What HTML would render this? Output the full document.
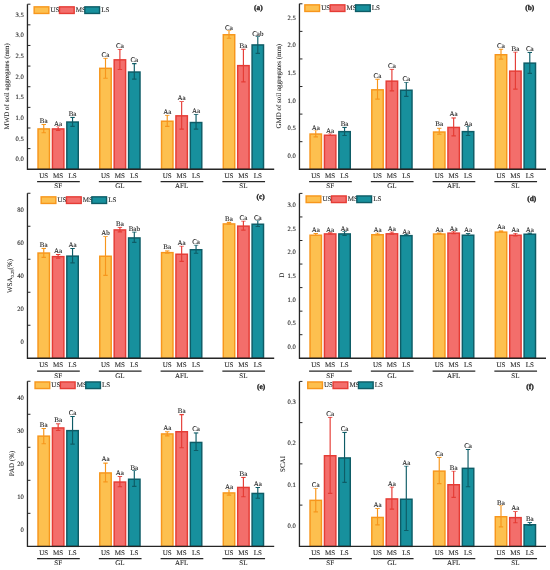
<!DOCTYPE html>
<html><head><meta charset="utf-8"><title>Soil aggregate indices</title>
<style>
html,body{margin:0;padding:0;background:#fff;}
body{width:550px;height:570px;overflow:hidden;}
svg{display:block;text-rendering:geometricPrecision;filter:blur(0.3px);}
.t{font-family:'Liberation Serif', 'Times New Roman', serif;font-size:7.0px;fill:#222222;stroke:#222222;stroke-width:0.1px;}
.tk{font-size:6.6px;}
.yl{font-size:7.0px;stroke-width:0.05px;}
.tag{font-family:'Liberation Serif', 'Times New Roman', serif;font-size:7.4px;font-weight:bold;fill:#222222;stroke:#222222;stroke-width:0.35px;}
</style></head>
<body>
<svg width="550" height="570" viewBox="0 0 550 570">
<rect width="550" height="570" fill="#fff"/>
<g id="pa">
<rect x="38.02" y="128.92" width="11.45" height="40.33" fill="#FDC04F" stroke="#F7961C" stroke-width="1.45"/>
<path d="M43.75 124.5V132.7M41.55 124.5H45.95M41.55 132.7H45.95" stroke="#F7961C" stroke-width="1.15" fill="none"/>
<rect x="39.56" y="117.4" width="8.38" height="6.6" fill="#fff"/>
<text x="43.75" y="123.2" text-anchor="middle" class="t">Ba</text>
<rect x="52.42" y="128.92" width="11.45" height="40.33" fill="#F36E6B" stroke="#E53C35" stroke-width="1.45"/>
<path d="M58.15 126.4V130.4M55.95 126.4H60.35M55.95 130.4H60.35" stroke="#E53C35" stroke-width="1.15" fill="none"/>
<rect x="53.77" y="120" width="8.76" height="6.6" fill="#fff"/>
<text x="58.15" y="125.8" text-anchor="middle" class="t">Aa</text>
<rect x="66.82" y="122.02" width="11.45" height="47.23" fill="#17909D" stroke="#0E5C66" stroke-width="1.45"/>
<path d="M72.55 117.3V126.4M70.35 117.3H74.75M70.35 126.4H74.75" stroke="#0E5C66" stroke-width="1.15" fill="none"/>
<rect x="68.36" y="110" width="8.38" height="6.6" fill="#fff"/>
<text x="72.55" y="115.8" text-anchor="middle" class="t">Ba</text>
<rect x="99.77" y="68.32" width="11.45" height="100.93" fill="#FDC04F" stroke="#F7961C" stroke-width="1.45"/>
<path d="M105.5 58.2V78.2M103.3 58.2H107.7M103.3 78.2H107.7" stroke="#F7961C" stroke-width="1.15" fill="none"/>
<rect x="101.31" y="50.9" width="8.38" height="6.6" fill="#fff"/>
<text x="105.5" y="56.7" text-anchor="middle" class="t">Ca</text>
<rect x="114.17" y="59.83" width="11.45" height="109.43" fill="#F36E6B" stroke="#E53C35" stroke-width="1.45"/>
<path d="M119.9 49.1V69.5M117.7 49.1H122.1M117.7 69.5H122.1" stroke="#E53C35" stroke-width="1.15" fill="none"/>
<rect x="115.71" y="42.4" width="8.38" height="6.6" fill="#fff"/>
<text x="119.9" y="48.2" text-anchor="middle" class="t">Ca</text>
<rect x="128.57" y="72.02" width="11.45" height="97.23" fill="#17909D" stroke="#0E5C66" stroke-width="1.45"/>
<path d="M134.3 63.6V79.1M132.1 63.6H136.5M132.1 79.1H136.5" stroke="#0E5C66" stroke-width="1.15" fill="none"/>
<rect x="130.11" y="56.4" width="8.38" height="6.6" fill="#fff"/>
<text x="134.3" y="62.2" text-anchor="middle" class="t">Ca</text>
<rect x="161.53" y="121.22" width="11.45" height="48.02" fill="#FDC04F" stroke="#F7961C" stroke-width="1.45"/>
<path d="M167.25 115.1V126.4M165.05 115.1H169.45M165.05 126.4H169.45" stroke="#F7961C" stroke-width="1.15" fill="none"/>
<rect x="162.87" y="108.2" width="8.76" height="6.6" fill="#fff"/>
<text x="167.25" y="114" text-anchor="middle" class="t">Aa</text>
<rect x="175.93" y="115.82" width="11.45" height="53.43" fill="#F36E6B" stroke="#E53C35" stroke-width="1.45"/>
<path d="M181.65 101.3V129.1M179.45 101.3H183.85M179.45 129.1H183.85" stroke="#E53C35" stroke-width="1.15" fill="none"/>
<rect x="177.27" y="94.6" width="8.76" height="6.6" fill="#fff"/>
<text x="181.65" y="100.4" text-anchor="middle" class="t">Aa</text>
<rect x="190.33" y="122.52" width="11.45" height="46.73" fill="#17909D" stroke="#0E5C66" stroke-width="1.45"/>
<path d="M196.05 114.2V129.1M193.85 114.2H198.25M193.85 129.1H198.25" stroke="#0E5C66" stroke-width="1.15" fill="none"/>
<rect x="191.67" y="107.3" width="8.76" height="6.6" fill="#fff"/>
<text x="196.05" y="113.1" text-anchor="middle" class="t">Aa</text>
<rect x="223.28" y="34.73" width="11.45" height="134.53" fill="#FDC04F" stroke="#F7961C" stroke-width="1.45"/>
<path d="M229 30.5V38.2M226.8 30.5H231.2M226.8 38.2H231.2" stroke="#F7961C" stroke-width="1.15" fill="none"/>
<rect x="224.81" y="23.7" width="8.38" height="6.6" fill="#fff"/>
<text x="229" y="29.5" text-anchor="middle" class="t">Ca</text>
<rect x="237.68" y="65.62" width="11.45" height="103.62" fill="#F36E6B" stroke="#E53C35" stroke-width="1.45"/>
<path d="M243.4 49.1V81.8M241.2 49.1H245.6M241.2 81.8H245.6" stroke="#E53C35" stroke-width="1.15" fill="none"/>
<rect x="239.21" y="41.9" width="8.38" height="6.6" fill="#fff"/>
<text x="243.4" y="47.7" text-anchor="middle" class="t">Ba</text>
<rect x="252.08" y="44.93" width="11.45" height="124.33" fill="#17909D" stroke="#0E5C66" stroke-width="1.45"/>
<path d="M257.8 36.4V53.3M255.6 36.4H260M255.6 53.3H260" stroke="#0E5C66" stroke-width="1.15" fill="none"/>
<rect x="251.86" y="29.7" width="11.88" height="6.6" fill="#fff"/>
<text x="257.8" y="35.5" text-anchor="middle" class="t">Cab</text>
<path d="M27.45 4.2V169.25H274.2" stroke="#262626" stroke-width="1.3" fill="none"/>
<path d="M27.45 4.2h3M27.45 24.83h3M27.45 45.46h3M27.45 66.09h3M27.45 86.73h3M27.45 107.36h3M27.45 127.99h3M27.45 148.62h3" stroke="#262626" stroke-width="1" fill="none"/>
<text x="23.85" y="16.72" text-anchor="end" class="t tk">3.5</text>
<text x="23.85" y="37.35" text-anchor="end" class="t tk">3.0</text>
<text x="23.85" y="57.98" text-anchor="end" class="t tk">2.5</text>
<text x="23.85" y="78.61" text-anchor="end" class="t tk">2.0</text>
<text x="23.85" y="99.24" text-anchor="end" class="t tk">1.5</text>
<text x="23.85" y="119.87" text-anchor="end" class="t tk">1.0</text>
<text x="23.85" y="140.5" text-anchor="end" class="t tk">0.5</text>
<text x="23.85" y="161.13" text-anchor="end" class="t tk">0.0</text>
<text x="43.75" y="177.5" text-anchor="middle" class="t">US</text>
<text x="58.15" y="177.5" text-anchor="middle" class="t">MS</text>
<text x="72.55" y="177.5" text-anchor="middle" class="t">LS</text>
<path d="M37.1 181.55H79.8" stroke="#262626" stroke-width="1.3"/>
<text x="58.15" y="188.4" text-anchor="middle" class="t">SF</text>
<text x="105.5" y="177.5" text-anchor="middle" class="t">US</text>
<text x="119.9" y="177.5" text-anchor="middle" class="t">MS</text>
<text x="134.3" y="177.5" text-anchor="middle" class="t">LS</text>
<path d="M98.85 181.55H141.55" stroke="#262626" stroke-width="1.3"/>
<text x="119.9" y="188.4" text-anchor="middle" class="t">GL</text>
<text x="167.25" y="177.5" text-anchor="middle" class="t">US</text>
<text x="181.65" y="177.5" text-anchor="middle" class="t">MS</text>
<text x="196.05" y="177.5" text-anchor="middle" class="t">LS</text>
<path d="M160.6 181.55H203.3" stroke="#262626" stroke-width="1.3"/>
<text x="181.65" y="188.4" text-anchor="middle" class="t">AFL</text>
<text x="229" y="177.5" text-anchor="middle" class="t">US</text>
<text x="243.4" y="177.5" text-anchor="middle" class="t">MS</text>
<text x="257.8" y="177.5" text-anchor="middle" class="t">LS</text>
<path d="M222.35 181.55H265.05" stroke="#262626" stroke-width="1.3"/>
<text x="243.4" y="188.4" text-anchor="middle" class="t">SL</text>
<rect x="34.15" y="6.85" width="14.7" height="6.6" fill="#FDC04F" stroke="#F7961C" stroke-width="1.4"/>
<text x="50.45" y="12.35" class="t">US</text>
<rect x="59.5" y="6.85" width="14.7" height="6.6" fill="#F36E6B" stroke="#E53C35" stroke-width="1.4"/>
<text x="75.8" y="12.35" class="t">MS</text>
<rect x="84.85" y="6.85" width="14.7" height="6.6" fill="#17909D" stroke="#0E5C66" stroke-width="1.4"/>
<text x="101.15" y="12.35" class="t">LS</text>
<text x="258.3" y="10.4" text-anchor="middle" class="tag">(a)</text>
<text transform="translate(9.2 86.4) rotate(-90)" text-anchor="middle" class="t yl">MWD of soil aggregates (mm)</text>
</g>
<g id="pb">
<rect x="310.03" y="134.03" width="11.45" height="35.22" fill="#FDC04F" stroke="#F7961C" stroke-width="1.45"/>
<path d="M315.75 130V136.9M313.55 130H317.95M313.55 136.9H317.95" stroke="#F7961C" stroke-width="1.15" fill="none"/>
<rect x="311.37" y="123.7" width="8.76" height="6.6" fill="#fff"/>
<text x="315.75" y="129.5" text-anchor="middle" class="t">Aa</text>
<rect x="324.43" y="135.22" width="11.45" height="34.02" fill="#F36E6B" stroke="#E53C35" stroke-width="1.45"/>
<path d="M330.15 133.5V135.5M327.95 133.5H332.35M327.95 135.5H332.35" stroke="#E53C35" stroke-width="1.15" fill="none"/>
<rect x="325.77" y="127.3" width="8.76" height="6.3" fill="#fff"/>
<text x="330.15" y="133.1" text-anchor="middle" class="t">Aa</text>
<rect x="338.83" y="131.62" width="11.45" height="37.62" fill="#17909D" stroke="#0E5C66" stroke-width="1.45"/>
<path d="M344.55 127.3V135.5M342.35 127.3H346.75M342.35 135.5H346.75" stroke="#0E5C66" stroke-width="1.15" fill="none"/>
<rect x="340.36" y="120" width="8.38" height="6.6" fill="#fff"/>
<text x="344.55" y="125.8" text-anchor="middle" class="t">Ba</text>
<rect x="371.78" y="89.82" width="11.45" height="79.43" fill="#FDC04F" stroke="#F7961C" stroke-width="1.45"/>
<path d="M377.5 79.1V99.1M375.3 79.1H379.7M375.3 99.1H379.7" stroke="#F7961C" stroke-width="1.15" fill="none"/>
<rect x="373.31" y="71.9" width="8.38" height="6.6" fill="#fff"/>
<text x="377.5" y="77.7" text-anchor="middle" class="t">Ca</text>
<rect x="386.18" y="81.12" width="11.45" height="88.12" fill="#F36E6B" stroke="#E53C35" stroke-width="1.45"/>
<path d="M391.9 69.1V90.9M389.7 69.1H394.1M389.7 90.9H394.1" stroke="#E53C35" stroke-width="1.15" fill="none"/>
<rect x="387.71" y="62.2" width="8.38" height="6.6" fill="#fff"/>
<text x="391.9" y="68" text-anchor="middle" class="t">Ca</text>
<rect x="400.58" y="90.22" width="11.45" height="79.03" fill="#17909D" stroke="#0E5C66" stroke-width="1.45"/>
<path d="M406.3 82.2V96.4M404.1 82.2H408.5M404.1 96.4H408.5" stroke="#0E5C66" stroke-width="1.15" fill="none"/>
<rect x="402.11" y="75.5" width="8.38" height="6.6" fill="#fff"/>
<text x="406.3" y="81.3" text-anchor="middle" class="t">Ca</text>
<rect x="433.53" y="132.03" width="11.45" height="37.22" fill="#FDC04F" stroke="#F7961C" stroke-width="1.45"/>
<path d="M439.25 128.2V134.2M437.05 128.2H441.45M437.05 134.2H441.45" stroke="#F7961C" stroke-width="1.15" fill="none"/>
<rect x="435.06" y="120.6" width="8.38" height="6.6" fill="#fff"/>
<text x="439.25" y="126.4" text-anchor="middle" class="t">Ba</text>
<rect x="447.93" y="127.42" width="11.45" height="41.82" fill="#F36E6B" stroke="#E53C35" stroke-width="1.45"/>
<path d="M453.65 117.8V135.8M451.45 117.8H455.85M451.45 135.8H455.85" stroke="#E53C35" stroke-width="1.15" fill="none"/>
<rect x="449.27" y="110.6" width="8.76" height="6.6" fill="#fff"/>
<text x="453.65" y="116.4" text-anchor="middle" class="t">Aa</text>
<rect x="462.33" y="131.62" width="11.45" height="37.62" fill="#17909D" stroke="#0E5C66" stroke-width="1.45"/>
<path d="M468.05 126.4V135.5M465.85 126.4H470.25M465.85 135.5H470.25" stroke="#0E5C66" stroke-width="1.15" fill="none"/>
<rect x="463.67" y="119.7" width="8.76" height="6.6" fill="#fff"/>
<text x="468.05" y="125.5" text-anchor="middle" class="t">Aa</text>
<rect x="495.28" y="54.73" width="11.45" height="114.53" fill="#FDC04F" stroke="#F7961C" stroke-width="1.45"/>
<path d="M501 49.1V59.1M498.8 49.1H503.2M498.8 59.1H503.2" stroke="#F7961C" stroke-width="1.15" fill="none"/>
<rect x="496.81" y="41.9" width="8.38" height="6.6" fill="#fff"/>
<text x="501" y="47.7" text-anchor="middle" class="t">Ca</text>
<rect x="509.68" y="71.12" width="11.45" height="98.12" fill="#F36E6B" stroke="#E53C35" stroke-width="1.45"/>
<path d="M515.4 51.8V89.1M513.2 51.8H517.6M513.2 89.1H517.6" stroke="#E53C35" stroke-width="1.15" fill="none"/>
<rect x="511.21" y="45.1" width="8.38" height="6.6" fill="#fff"/>
<text x="515.4" y="50.9" text-anchor="middle" class="t">Ba</text>
<rect x="524.08" y="63.12" width="11.45" height="106.12" fill="#17909D" stroke="#0E5C66" stroke-width="1.45"/>
<path d="M529.8 52.4V73.3M527.6 52.4H532M527.6 73.3H532" stroke="#0E5C66" stroke-width="1.15" fill="none"/>
<rect x="525.61" y="45.1" width="8.38" height="6.6" fill="#fff"/>
<text x="529.8" y="50.9" text-anchor="middle" class="t">Ca</text>
<path d="M299.45 3.8V169.25H546" stroke="#262626" stroke-width="1.3" fill="none"/>
<path d="M299.45 3.8h3M299.45 31.38h3M299.45 58.95h3M299.45 86.52h3M299.45 114.1h3M299.45 141.68h3" stroke="#262626" stroke-width="1" fill="none"/>
<text x="295.85" y="19.79" text-anchor="end" class="t tk">2.5</text>
<text x="295.85" y="47.36" text-anchor="end" class="t tk">2.0</text>
<text x="295.85" y="74.94" text-anchor="end" class="t tk">1.5</text>
<text x="295.85" y="102.51" text-anchor="end" class="t tk">1.0</text>
<text x="295.85" y="130.09" text-anchor="end" class="t tk">0.5</text>
<text x="295.85" y="157.66" text-anchor="end" class="t tk">0.0</text>
<text x="315.75" y="177.5" text-anchor="middle" class="t">US</text>
<text x="330.15" y="177.5" text-anchor="middle" class="t">MS</text>
<text x="344.55" y="177.5" text-anchor="middle" class="t">LS</text>
<path d="M309.1 181.55H351.8" stroke="#262626" stroke-width="1.3"/>
<text x="330.15" y="188.4" text-anchor="middle" class="t">SF</text>
<text x="377.5" y="177.5" text-anchor="middle" class="t">US</text>
<text x="391.9" y="177.5" text-anchor="middle" class="t">MS</text>
<text x="406.3" y="177.5" text-anchor="middle" class="t">LS</text>
<path d="M370.85 181.55H413.55" stroke="#262626" stroke-width="1.3"/>
<text x="391.9" y="188.4" text-anchor="middle" class="t">GL</text>
<text x="439.25" y="177.5" text-anchor="middle" class="t">US</text>
<text x="453.65" y="177.5" text-anchor="middle" class="t">MS</text>
<text x="468.05" y="177.5" text-anchor="middle" class="t">LS</text>
<path d="M432.6 181.55H475.3" stroke="#262626" stroke-width="1.3"/>
<text x="453.65" y="188.4" text-anchor="middle" class="t">AFL</text>
<text x="501" y="177.5" text-anchor="middle" class="t">US</text>
<text x="515.4" y="177.5" text-anchor="middle" class="t">MS</text>
<text x="529.8" y="177.5" text-anchor="middle" class="t">LS</text>
<path d="M494.35 181.55H537.05" stroke="#262626" stroke-width="1.3"/>
<text x="515.4" y="188.4" text-anchor="middle" class="t">SL</text>
<rect x="304.85" y="4.85" width="14.7" height="6.6" fill="#FDC04F" stroke="#F7961C" stroke-width="1.4"/>
<text x="321.15" y="10.35" class="t">US</text>
<rect x="330.2" y="4.85" width="14.7" height="6.6" fill="#F36E6B" stroke="#E53C35" stroke-width="1.4"/>
<text x="346.5" y="10.35" class="t">MS</text>
<rect x="355.55" y="4.85" width="14.7" height="6.6" fill="#17909D" stroke="#0E5C66" stroke-width="1.4"/>
<text x="371.85" y="10.35" class="t">LS</text>
<text x="529.8" y="10.2" text-anchor="middle" class="tag">(b)</text>
<text transform="translate(280.9 86.2) rotate(-90)" text-anchor="middle" class="t yl">GMD of soil aggregates (mm)</text>
</g>
<g id="pc">
<rect x="38.02" y="253.03" width="11.45" height="105.22" fill="#FDC04F" stroke="#F7961C" stroke-width="1.45"/>
<path d="M43.75 248.3V257.4M41.55 248.3H45.95M41.55 257.4H45.95" stroke="#F7961C" stroke-width="1.15" fill="none"/>
<rect x="39.56" y="241" width="8.38" height="6.6" fill="#fff"/>
<text x="43.75" y="246.8" text-anchor="middle" class="t">Ba</text>
<rect x="52.42" y="256.62" width="11.45" height="101.62" fill="#F36E6B" stroke="#E53C35" stroke-width="1.45"/>
<path d="M58.15 254.5V258.1M55.95 254.5H60.35M55.95 258.1H60.35" stroke="#E53C35" stroke-width="1.15" fill="none"/>
<rect x="53.77" y="247.4" width="8.76" height="6.6" fill="#fff"/>
<text x="58.15" y="253.2" text-anchor="middle" class="t">Aa</text>
<rect x="66.82" y="256.12" width="11.45" height="102.12" fill="#17909D" stroke="#0E5C66" stroke-width="1.45"/>
<path d="M72.55 248.3V262.8M70.35 248.3H74.75M70.35 262.8H74.75" stroke="#0E5C66" stroke-width="1.15" fill="none"/>
<rect x="68.17" y="241.4" width="8.76" height="6.6" fill="#fff"/>
<text x="72.55" y="247.2" text-anchor="middle" class="t">Aa</text>
<rect x="99.77" y="256.23" width="11.45" height="102.03" fill="#FDC04F" stroke="#F7961C" stroke-width="1.45"/>
<path d="M105.5 236.5V275.4M103.3 236.5H107.7M103.3 275.4H107.7" stroke="#F7961C" stroke-width="1.15" fill="none"/>
<rect x="100.92" y="229.6" width="9.15" height="6.6" fill="#fff"/>
<text x="105.5" y="235.4" text-anchor="middle" class="t">Ab</text>
<rect x="114.17" y="229.92" width="11.45" height="128.33" fill="#F36E6B" stroke="#E53C35" stroke-width="1.45"/>
<path d="M119.9 227.2V231.9M117.7 227.2H122.1M117.7 231.9H122.1" stroke="#E53C35" stroke-width="1.15" fill="none"/>
<rect x="115.71" y="220.1" width="8.38" height="6.6" fill="#fff"/>
<text x="119.9" y="225.9" text-anchor="middle" class="t">Ba</text>
<rect x="128.57" y="237.92" width="11.45" height="120.33" fill="#17909D" stroke="#0E5C66" stroke-width="1.45"/>
<path d="M134.3 231.9V242.3M132.1 231.9H136.5M132.1 242.3H136.5" stroke="#0E5C66" stroke-width="1.15" fill="none"/>
<rect x="128.36" y="225" width="11.88" height="6.6" fill="#fff"/>
<text x="134.3" y="230.8" text-anchor="middle" class="t">Bab</text>
<rect x="161.53" y="252.62" width="11.45" height="105.62" fill="#FDC04F" stroke="#F7961C" stroke-width="1.45"/>
<path d="M167.25 250.8V253.2M165.05 250.8H169.45M165.05 253.2H169.45" stroke="#F7961C" stroke-width="1.15" fill="none"/>
<rect x="163.06" y="243.6" width="8.38" height="6.6" fill="#fff"/>
<text x="167.25" y="249.4" text-anchor="middle" class="t">Ba</text>
<rect x="175.93" y="254.22" width="11.45" height="104.03" fill="#F36E6B" stroke="#E53C35" stroke-width="1.45"/>
<path d="M181.65 245.9V261.4M179.45 245.9H183.85M179.45 261.4H183.85" stroke="#E53C35" stroke-width="1.15" fill="none"/>
<rect x="177.27" y="239.2" width="8.76" height="6.6" fill="#fff"/>
<text x="181.65" y="245" text-anchor="middle" class="t">Aa</text>
<rect x="190.33" y="249.72" width="11.45" height="108.53" fill="#17909D" stroke="#0E5C66" stroke-width="1.45"/>
<path d="M196.05 245V253.2M193.85 245H198.25M193.85 253.2H198.25" stroke="#0E5C66" stroke-width="1.15" fill="none"/>
<rect x="191.86" y="238.1" width="8.38" height="6.6" fill="#fff"/>
<text x="196.05" y="243.9" text-anchor="middle" class="t">Ca</text>
<rect x="223.28" y="223.92" width="11.45" height="134.33" fill="#FDC04F" stroke="#F7961C" stroke-width="1.45"/>
<path d="M229 222.3V224.1M226.8 222.3H231.2M226.8 224.1H231.2" stroke="#F7961C" stroke-width="1.15" fill="none"/>
<rect x="224.81" y="214.7" width="8.38" height="6.6" fill="#fff"/>
<text x="229" y="220.5" text-anchor="middle" class="t">Ba</text>
<rect x="237.68" y="226.12" width="11.45" height="132.12" fill="#F36E6B" stroke="#E53C35" stroke-width="1.45"/>
<path d="M243.4 220.8V230.1M241.2 220.8H245.6M241.2 230.1H245.6" stroke="#E53C35" stroke-width="1.15" fill="none"/>
<rect x="239.21" y="214.1" width="8.38" height="6.6" fill="#fff"/>
<text x="243.4" y="219.9" text-anchor="middle" class="t">Ca</text>
<rect x="252.08" y="224.22" width="11.45" height="134.03" fill="#17909D" stroke="#0E5C66" stroke-width="1.45"/>
<path d="M257.8 220.1V226.5M255.6 220.1H260M255.6 226.5H260" stroke="#0E5C66" stroke-width="1.15" fill="none"/>
<rect x="253.61" y="213.8" width="8.38" height="6.6" fill="#fff"/>
<text x="257.8" y="219.6" text-anchor="middle" class="t">Ca</text>
<path d="M27.45 193.25V358.25H274.2" stroke="#262626" stroke-width="1.3" fill="none"/>
<path d="M27.45 193.25h3M27.45 226.25h3M27.45 259.25h3M27.45 292.25h3M27.45 325.25h3" stroke="#262626" stroke-width="1" fill="none"/>
<text x="23.85" y="211.95" text-anchor="end" class="t tk">80</text>
<text x="23.85" y="244.95" text-anchor="end" class="t tk">60</text>
<text x="23.85" y="277.95" text-anchor="end" class="t tk">40</text>
<text x="23.85" y="310.95" text-anchor="end" class="t tk">20</text>
<text x="23.85" y="343.95" text-anchor="end" class="t tk">0</text>
<text x="43.75" y="367.15" text-anchor="middle" class="t">US</text>
<text x="58.15" y="367.15" text-anchor="middle" class="t">MS</text>
<text x="72.55" y="367.15" text-anchor="middle" class="t">LS</text>
<path d="M37.1 371.2H79.8" stroke="#262626" stroke-width="1.3"/>
<text x="58.15" y="378.05" text-anchor="middle" class="t">SF</text>
<text x="105.5" y="367.15" text-anchor="middle" class="t">US</text>
<text x="119.9" y="367.15" text-anchor="middle" class="t">MS</text>
<text x="134.3" y="367.15" text-anchor="middle" class="t">LS</text>
<path d="M98.85 371.2H141.55" stroke="#262626" stroke-width="1.3"/>
<text x="119.9" y="378.05" text-anchor="middle" class="t">GL</text>
<text x="167.25" y="367.15" text-anchor="middle" class="t">US</text>
<text x="181.65" y="367.15" text-anchor="middle" class="t">MS</text>
<text x="196.05" y="367.15" text-anchor="middle" class="t">LS</text>
<path d="M160.6 371.2H203.3" stroke="#262626" stroke-width="1.3"/>
<text x="181.65" y="378.05" text-anchor="middle" class="t">AFL</text>
<text x="229" y="367.15" text-anchor="middle" class="t">US</text>
<text x="243.4" y="367.15" text-anchor="middle" class="t">MS</text>
<text x="257.8" y="367.15" text-anchor="middle" class="t">LS</text>
<path d="M222.35 371.2H265.05" stroke="#262626" stroke-width="1.3"/>
<text x="243.4" y="378.05" text-anchor="middle" class="t">SL</text>
<rect x="41.15" y="196.85" width="14.7" height="6.6" fill="#FDC04F" stroke="#F7961C" stroke-width="1.4"/>
<text x="57.45" y="202.35" class="t">US</text>
<rect x="66.5" y="196.85" width="14.7" height="6.6" fill="#F36E6B" stroke="#E53C35" stroke-width="1.4"/>
<text x="82.8" y="202.35" class="t">MS</text>
<rect x="91.85" y="196.85" width="14.7" height="6.6" fill="#17909D" stroke="#0E5C66" stroke-width="1.4"/>
<text x="108.15" y="202.35" class="t">LS</text>
<text x="260.7" y="198.9" text-anchor="middle" class="tag">(c)</text>
<text transform="translate(12.3 276) rotate(-90)" text-anchor="middle" class="t yl">WSA<tspan font-size="4.6" dy="1.6">0.25</tspan><tspan dy="-1.6">(%)</tspan></text>
</g>
<g id="pd">
<rect x="310.03" y="235.22" width="11.45" height="123.03" fill="#FDC04F" stroke="#F7961C" stroke-width="1.45"/>
<path d="M315.75 233.5V235.5M313.55 233.5H317.95M313.55 235.5H317.95" stroke="#F7961C" stroke-width="1.15" fill="none"/>
<rect x="311.37" y="225.9" width="8.76" height="6.6" fill="#fff"/>
<text x="315.75" y="231.7" text-anchor="middle" class="t">Aa</text>
<rect x="324.43" y="233.92" width="11.45" height="124.33" fill="#F36E6B" stroke="#E53C35" stroke-width="1.45"/>
<path d="M330.15 232.5V234M327.95 232.5H332.35M327.95 234H332.35" stroke="#E53C35" stroke-width="1.15" fill="none"/>
<rect x="325.77" y="225.9" width="8.76" height="6.4" fill="#fff"/>
<text x="330.15" y="231.7" text-anchor="middle" class="t">Aa</text>
<rect x="338.83" y="233.92" width="11.45" height="124.33" fill="#17909D" stroke="#0E5C66" stroke-width="1.45"/>
<path d="M344.55 231.4V235.5M342.35 231.4H346.75M342.35 235.5H346.75" stroke="#0E5C66" stroke-width="1.15" fill="none"/>
<rect x="340.17" y="224.7" width="8.76" height="6.6" fill="#fff"/>
<text x="344.55" y="230.5" text-anchor="middle" class="t">Aa</text>
<rect x="371.78" y="234.72" width="11.45" height="123.53" fill="#FDC04F" stroke="#F7961C" stroke-width="1.45"/>
<path d="M377.5 233V235M375.3 233H379.7M375.3 235H379.7" stroke="#F7961C" stroke-width="1.15" fill="none"/>
<rect x="373.12" y="225.9" width="8.76" height="6.6" fill="#fff"/>
<text x="377.5" y="231.7" text-anchor="middle" class="t">Aa</text>
<rect x="386.18" y="233.82" width="11.45" height="124.43" fill="#F36E6B" stroke="#E53C35" stroke-width="1.45"/>
<path d="M391.9 231.8V234.2M389.7 231.8H394.1M389.7 234.2H394.1" stroke="#E53C35" stroke-width="1.15" fill="none"/>
<rect x="387.52" y="224.9" width="8.76" height="6.6" fill="#fff"/>
<text x="391.9" y="230.7" text-anchor="middle" class="t">Aa</text>
<rect x="400.58" y="235.62" width="11.45" height="122.62" fill="#17909D" stroke="#0E5C66" stroke-width="1.45"/>
<path d="M406.3 234.2V235.5M404.1 234.2H408.5M404.1 235.5H408.5" stroke="#0E5C66" stroke-width="1.15" fill="none"/>
<rect x="401.92" y="227.7" width="8.76" height="6.3" fill="#fff"/>
<text x="406.3" y="233.5" text-anchor="middle" class="t">Aa</text>
<rect x="433.53" y="234.03" width="11.45" height="124.22" fill="#FDC04F" stroke="#F7961C" stroke-width="1.45"/>
<path d="M439.25 232.8V233.8M437.05 232.8H441.45M437.05 233.8H441.45" stroke="#F7961C" stroke-width="1.15" fill="none"/>
<rect x="434.87" y="225.9" width="8.76" height="6.5" fill="#fff"/>
<text x="439.25" y="231.7" text-anchor="middle" class="t">Aa</text>
<rect x="447.93" y="233.12" width="11.45" height="125.12" fill="#F36E6B" stroke="#E53C35" stroke-width="1.45"/>
<path d="M453.65 231.3V233.6M451.45 231.3H455.85M451.45 233.6H455.85" stroke="#E53C35" stroke-width="1.15" fill="none"/>
<rect x="449.27" y="224.7" width="8.76" height="6.6" fill="#fff"/>
<text x="453.65" y="230.5" text-anchor="middle" class="t">Aa</text>
<rect x="462.33" y="235.22" width="11.45" height="123.03" fill="#17909D" stroke="#0E5C66" stroke-width="1.45"/>
<path d="M468.05 233.5V235.5M465.85 233.5H470.25M465.85 235.5H470.25" stroke="#0E5C66" stroke-width="1.15" fill="none"/>
<rect x="463.67" y="226.5" width="8.76" height="6.6" fill="#fff"/>
<text x="468.05" y="232.3" text-anchor="middle" class="t">Aa</text>
<rect x="495.28" y="232.12" width="11.45" height="126.12" fill="#FDC04F" stroke="#F7961C" stroke-width="1.45"/>
<path d="M501 230.8V232M498.8 230.8H503.2M498.8 232H503.2" stroke="#F7961C" stroke-width="1.15" fill="none"/>
<rect x="496.62" y="223.6" width="8.76" height="6.6" fill="#fff"/>
<text x="501" y="229.4" text-anchor="middle" class="t">Aa</text>
<rect x="509.68" y="235.22" width="11.45" height="123.03" fill="#F36E6B" stroke="#E53C35" stroke-width="1.45"/>
<path d="M515.4 233.2V235.8M513.2 233.2H517.6M513.2 235.8H517.6" stroke="#E53C35" stroke-width="1.15" fill="none"/>
<rect x="511.02" y="226.5" width="8.76" height="6.6" fill="#fff"/>
<text x="515.4" y="232.3" text-anchor="middle" class="t">Aa</text>
<rect x="524.08" y="234.22" width="11.45" height="124.03" fill="#17909D" stroke="#0E5C66" stroke-width="1.45"/>
<path d="M529.8 232.8V234.2M527.6 232.8H532M527.6 234.2H532" stroke="#0E5C66" stroke-width="1.15" fill="none"/>
<rect x="525.42" y="225.9" width="8.76" height="6.6" fill="#fff"/>
<text x="529.8" y="231.7" text-anchor="middle" class="t">Aa</text>
<path d="M299.45 193.4V358.25H546" stroke="#262626" stroke-width="1.3" fill="none"/>
<path d="M299.45 193.4h3M299.45 216.95h3M299.45 240.5h3M299.45 264.05h3M299.45 287.6h3M299.45 311.15h3M299.45 334.7h3" stroke="#262626" stroke-width="1" fill="none"/>
<text x="295.85" y="207.38" text-anchor="end" class="t tk">3.0</text>
<text x="295.85" y="230.93" text-anchor="end" class="t tk">2.5</text>
<text x="295.85" y="254.47" text-anchor="end" class="t tk">2.0</text>
<text x="295.85" y="278.02" text-anchor="end" class="t tk">1.5</text>
<text x="295.85" y="301.57" text-anchor="end" class="t tk">1.0</text>
<text x="295.85" y="325.12" text-anchor="end" class="t tk">0.5</text>
<text x="295.85" y="348.68" text-anchor="end" class="t tk">0.0</text>
<text x="315.75" y="367.15" text-anchor="middle" class="t">US</text>
<text x="330.15" y="367.15" text-anchor="middle" class="t">MS</text>
<text x="344.55" y="367.15" text-anchor="middle" class="t">LS</text>
<path d="M309.1 371.2H351.8" stroke="#262626" stroke-width="1.3"/>
<text x="330.15" y="378.05" text-anchor="middle" class="t">SF</text>
<text x="377.5" y="367.15" text-anchor="middle" class="t">US</text>
<text x="391.9" y="367.15" text-anchor="middle" class="t">MS</text>
<text x="406.3" y="367.15" text-anchor="middle" class="t">LS</text>
<path d="M370.85 371.2H413.55" stroke="#262626" stroke-width="1.3"/>
<text x="391.9" y="378.05" text-anchor="middle" class="t">GL</text>
<text x="439.25" y="367.15" text-anchor="middle" class="t">US</text>
<text x="453.65" y="367.15" text-anchor="middle" class="t">MS</text>
<text x="468.05" y="367.15" text-anchor="middle" class="t">LS</text>
<path d="M432.6 371.2H475.3" stroke="#262626" stroke-width="1.3"/>
<text x="453.65" y="378.05" text-anchor="middle" class="t">AFL</text>
<text x="501" y="367.15" text-anchor="middle" class="t">US</text>
<text x="515.4" y="367.15" text-anchor="middle" class="t">MS</text>
<text x="529.8" y="367.15" text-anchor="middle" class="t">LS</text>
<path d="M494.35 371.2H537.05" stroke="#262626" stroke-width="1.3"/>
<text x="515.4" y="378.05" text-anchor="middle" class="t">SL</text>
<rect x="306.15" y="195.95" width="14.7" height="6.6" fill="#FDC04F" stroke="#F7961C" stroke-width="1.4"/>
<text x="322.45" y="201.45" class="t">US</text>
<rect x="331.5" y="195.95" width="14.7" height="6.6" fill="#F36E6B" stroke="#E53C35" stroke-width="1.4"/>
<text x="347.8" y="201.45" class="t">MS</text>
<rect x="356.85" y="195.95" width="14.7" height="6.6" fill="#17909D" stroke="#0E5C66" stroke-width="1.4"/>
<text x="373.15" y="201.45" class="t">LS</text>
<text x="531.8" y="201" text-anchor="middle" class="tag">(d)</text>
<text transform="translate(284.3 275.25) rotate(-90)" text-anchor="middle" class="t yl">D</text>
</g>
<g id="pe">
<rect x="38.02" y="436.12" width="11.45" height="110.23" fill="#FDC04F" stroke="#F7961C" stroke-width="1.45"/>
<path d="M43.75 428.3V443.7M41.55 428.3H45.95M41.55 443.7H45.95" stroke="#F7961C" stroke-width="1.15" fill="none"/>
<rect x="39.56" y="421.4" width="8.38" height="6.6" fill="#fff"/>
<text x="43.75" y="427.2" text-anchor="middle" class="t">Ba</text>
<rect x="52.42" y="427.93" width="11.45" height="118.43" fill="#F36E6B" stroke="#E53C35" stroke-width="1.45"/>
<path d="M58.15 423.7V430.5M55.95 423.7H60.35M55.95 430.5H60.35" stroke="#E53C35" stroke-width="1.15" fill="none"/>
<rect x="53.96" y="416.5" width="8.38" height="6.6" fill="#fff"/>
<text x="58.15" y="422.3" text-anchor="middle" class="t">Ba</text>
<rect x="66.82" y="430.62" width="11.45" height="115.73" fill="#17909D" stroke="#0E5C66" stroke-width="1.45"/>
<path d="M72.55 416.5V444.1M70.35 416.5H74.75M70.35 444.1H74.75" stroke="#0E5C66" stroke-width="1.15" fill="none"/>
<rect x="68.36" y="409.2" width="8.38" height="6.6" fill="#fff"/>
<text x="72.55" y="415" text-anchor="middle" class="t">Ca</text>
<rect x="99.77" y="472.93" width="11.45" height="73.43" fill="#FDC04F" stroke="#F7961C" stroke-width="1.45"/>
<path d="M105.5 463.1V481.8M103.3 463.1H107.7M103.3 481.8H107.7" stroke="#F7961C" stroke-width="1.15" fill="none"/>
<rect x="101.12" y="455.5" width="8.76" height="6.6" fill="#fff"/>
<text x="105.5" y="461.3" text-anchor="middle" class="t">Aa</text>
<rect x="114.17" y="482.03" width="11.45" height="64.33" fill="#F36E6B" stroke="#E53C35" stroke-width="1.45"/>
<path d="M119.9 476.4V486.7M117.7 476.4H122.1M117.7 486.7H122.1" stroke="#E53C35" stroke-width="1.15" fill="none"/>
<rect x="115.52" y="469.5" width="8.76" height="6.6" fill="#fff"/>
<text x="119.9" y="475.3" text-anchor="middle" class="t">Aa</text>
<rect x="128.57" y="479.23" width="11.45" height="67.13" fill="#17909D" stroke="#0E5C66" stroke-width="1.45"/>
<path d="M134.3 470.4V486.4M132.1 470.4H136.5M132.1 486.4H136.5" stroke="#0E5C66" stroke-width="1.15" fill="none"/>
<rect x="130.11" y="463.7" width="8.38" height="6.6" fill="#fff"/>
<text x="134.3" y="469.5" text-anchor="middle" class="t">Ba</text>
<rect x="161.53" y="433.93" width="11.45" height="112.43" fill="#FDC04F" stroke="#F7961C" stroke-width="1.45"/>
<path d="M167.25 431.7V435.9M165.05 431.7H169.45M165.05 435.9H169.45" stroke="#F7961C" stroke-width="1.15" fill="none"/>
<rect x="162.87" y="424.1" width="8.76" height="6.6" fill="#fff"/>
<text x="167.25" y="429.9" text-anchor="middle" class="t">Aa</text>
<rect x="175.93" y="431.73" width="11.45" height="114.63" fill="#F36E6B" stroke="#E53C35" stroke-width="1.45"/>
<path d="M181.65 414.6V447.7M179.45 414.6H183.85M179.45 447.7H183.85" stroke="#E53C35" stroke-width="1.15" fill="none"/>
<rect x="177.46" y="407.4" width="8.38" height="6.6" fill="#fff"/>
<text x="181.65" y="413.2" text-anchor="middle" class="t">Ba</text>
<rect x="190.33" y="442.43" width="11.45" height="103.93" fill="#17909D" stroke="#0E5C66" stroke-width="1.45"/>
<path d="M196.05 432.8V450.5M193.85 432.8H198.25M193.85 450.5H198.25" stroke="#0E5C66" stroke-width="1.15" fill="none"/>
<rect x="191.86" y="425.6" width="8.38" height="6.6" fill="#fff"/>
<text x="196.05" y="431.4" text-anchor="middle" class="t">Ca</text>
<rect x="223.28" y="492.93" width="11.45" height="53.43" fill="#FDC04F" stroke="#F7961C" stroke-width="1.45"/>
<path d="M229 489.5V495.1M226.8 489.5H231.2M226.8 495.1H231.2" stroke="#F7961C" stroke-width="1.15" fill="none"/>
<rect x="224.62" y="483.1" width="8.76" height="6.6" fill="#fff"/>
<text x="229" y="488.9" text-anchor="middle" class="t">Aa</text>
<rect x="237.68" y="487.43" width="11.45" height="58.93" fill="#F36E6B" stroke="#E53C35" stroke-width="1.45"/>
<path d="M243.4 477.3V496.7M241.2 477.3H245.6M241.2 496.7H245.6" stroke="#E53C35" stroke-width="1.15" fill="none"/>
<rect x="239.21" y="470" width="8.38" height="6.6" fill="#fff"/>
<text x="243.4" y="475.8" text-anchor="middle" class="t">Ba</text>
<rect x="252.08" y="493.43" width="11.45" height="52.93" fill="#17909D" stroke="#0E5C66" stroke-width="1.45"/>
<path d="M257.8 487.3V498.2M255.6 487.3H260M255.6 498.2H260" stroke="#0E5C66" stroke-width="1.15" fill="none"/>
<rect x="253.42" y="480.4" width="8.76" height="6.6" fill="#fff"/>
<text x="257.8" y="486.2" text-anchor="middle" class="t">Aa</text>
<path d="M27.45 381.25V546.35H274.2" stroke="#262626" stroke-width="1.3" fill="none"/>
<path d="M27.45 381.25h3M27.45 414.27h3M27.45 447.29h3M27.45 480.31h3M27.45 513.33h3" stroke="#262626" stroke-width="1" fill="none"/>
<text x="23.85" y="399.96" text-anchor="end" class="t tk">40</text>
<text x="23.85" y="432.98" text-anchor="end" class="t tk">30</text>
<text x="23.85" y="466" text-anchor="end" class="t tk">20</text>
<text x="23.85" y="499.02" text-anchor="end" class="t tk">10</text>
<text x="23.85" y="532.04" text-anchor="end" class="t tk">0</text>
<text x="43.75" y="554.55" text-anchor="middle" class="t">US</text>
<text x="58.15" y="554.55" text-anchor="middle" class="t">MS</text>
<text x="72.55" y="554.55" text-anchor="middle" class="t">LS</text>
<path d="M37.1 558.6H79.8" stroke="#262626" stroke-width="1.3"/>
<text x="58.15" y="565.45" text-anchor="middle" class="t">SF</text>
<text x="105.5" y="554.55" text-anchor="middle" class="t">US</text>
<text x="119.9" y="554.55" text-anchor="middle" class="t">MS</text>
<text x="134.3" y="554.55" text-anchor="middle" class="t">LS</text>
<path d="M98.85 558.6H141.55" stroke="#262626" stroke-width="1.3"/>
<text x="119.9" y="565.45" text-anchor="middle" class="t">GL</text>
<text x="167.25" y="554.55" text-anchor="middle" class="t">US</text>
<text x="181.65" y="554.55" text-anchor="middle" class="t">MS</text>
<text x="196.05" y="554.55" text-anchor="middle" class="t">LS</text>
<path d="M160.6 558.6H203.3" stroke="#262626" stroke-width="1.3"/>
<text x="181.65" y="565.45" text-anchor="middle" class="t">AFL</text>
<text x="229" y="554.55" text-anchor="middle" class="t">US</text>
<text x="243.4" y="554.55" text-anchor="middle" class="t">MS</text>
<text x="257.8" y="554.55" text-anchor="middle" class="t">LS</text>
<path d="M222.35 558.6H265.05" stroke="#262626" stroke-width="1.3"/>
<text x="243.4" y="565.45" text-anchor="middle" class="t">SL</text>
<rect x="35.05" y="381.95" width="14.7" height="6.6" fill="#FDC04F" stroke="#F7961C" stroke-width="1.4"/>
<text x="51.35" y="387.45" class="t">US</text>
<rect x="60.4" y="381.95" width="14.7" height="6.6" fill="#F36E6B" stroke="#E53C35" stroke-width="1.4"/>
<text x="76.7" y="387.45" class="t">MS</text>
<rect x="85.75" y="381.95" width="14.7" height="6.6" fill="#17909D" stroke="#0E5C66" stroke-width="1.4"/>
<text x="102.05" y="387.45" class="t">LS</text>
<text x="261.2" y="388.9" text-anchor="middle" class="tag">(e)</text>
<text transform="translate(14 463.5) rotate(-90)" text-anchor="middle" class="t yl">PAD (%)</text>
</g>
<g id="pf">
<rect x="310.03" y="500.33" width="11.45" height="46.02" fill="#FDC04F" stroke="#F7961C" stroke-width="1.45"/>
<path d="M315.75 488.2V511.8M313.55 488.2H317.95M313.55 511.8H317.95" stroke="#F7961C" stroke-width="1.15" fill="none"/>
<rect x="311.56" y="481.5" width="8.38" height="6.6" fill="#fff"/>
<text x="315.75" y="487.3" text-anchor="middle" class="t">Ca</text>
<rect x="324.43" y="455.73" width="11.45" height="90.63" fill="#F36E6B" stroke="#E53C35" stroke-width="1.45"/>
<path d="M330.15 417.2V493.3M327.95 417.2H332.35M327.95 493.3H332.35" stroke="#E53C35" stroke-width="1.15" fill="none"/>
<rect x="325.96" y="410.1" width="8.38" height="6.6" fill="#fff"/>
<text x="330.15" y="415.9" text-anchor="middle" class="t">Ca</text>
<rect x="338.83" y="457.93" width="11.45" height="88.43" fill="#17909D" stroke="#0E5C66" stroke-width="1.45"/>
<path d="M344.55 432.3V482.4M342.35 432.3H346.75M342.35 482.4H346.75" stroke="#0E5C66" stroke-width="1.15" fill="none"/>
<rect x="340.36" y="425" width="8.38" height="6.6" fill="#fff"/>
<text x="344.55" y="430.8" text-anchor="middle" class="t">Ca</text>
<rect x="371.78" y="517.43" width="11.45" height="28.92" fill="#FDC04F" stroke="#F7961C" stroke-width="1.45"/>
<path d="M377.5 508.5V524.9M375.3 508.5H379.7M375.3 524.9H379.7" stroke="#F7961C" stroke-width="1.15" fill="none"/>
<rect x="373.12" y="501.5" width="8.76" height="6.6" fill="#fff"/>
<text x="377.5" y="507.3" text-anchor="middle" class="t">Aa</text>
<rect x="386.18" y="498.93" width="11.45" height="47.43" fill="#F36E6B" stroke="#E53C35" stroke-width="1.45"/>
<path d="M391.9 486.9V509.1M389.7 486.9H394.1M389.7 509.1H394.1" stroke="#E53C35" stroke-width="1.15" fill="none"/>
<rect x="387.52" y="480" width="8.76" height="6.6" fill="#fff"/>
<text x="391.9" y="485.8" text-anchor="middle" class="t">Aa</text>
<rect x="400.58" y="499.23" width="11.45" height="47.13" fill="#17909D" stroke="#0E5C66" stroke-width="1.45"/>
<path d="M406.3 466V530.5M404.1 466H408.5M404.1 530.5H408.5" stroke="#0E5C66" stroke-width="1.15" fill="none"/>
<rect x="401.92" y="459.1" width="8.76" height="6.6" fill="#fff"/>
<text x="406.3" y="464.9" text-anchor="middle" class="t">Aa</text>
<rect x="433.53" y="471.12" width="11.45" height="75.23" fill="#FDC04F" stroke="#F7961C" stroke-width="1.45"/>
<path d="M439.25 457.3V483.6M437.05 457.3H441.45M437.05 483.6H441.45" stroke="#F7961C" stroke-width="1.15" fill="none"/>
<rect x="435.06" y="450" width="8.38" height="6.6" fill="#fff"/>
<text x="439.25" y="455.8" text-anchor="middle" class="t">Ca</text>
<rect x="447.93" y="484.73" width="11.45" height="61.63" fill="#F36E6B" stroke="#E53C35" stroke-width="1.45"/>
<path d="M453.65 470.9V497.3M451.45 470.9H455.85M451.45 497.3H455.85" stroke="#E53C35" stroke-width="1.15" fill="none"/>
<rect x="449.46" y="464.2" width="8.38" height="6.6" fill="#fff"/>
<text x="453.65" y="470" text-anchor="middle" class="t">Ba</text>
<rect x="462.33" y="468.33" width="11.45" height="78.03" fill="#17909D" stroke="#0E5C66" stroke-width="1.45"/>
<path d="M468.05 449.5V486.7M465.85 449.5H470.25M465.85 486.7H470.25" stroke="#0E5C66" stroke-width="1.15" fill="none"/>
<rect x="463.86" y="441.9" width="8.38" height="6.6" fill="#fff"/>
<text x="468.05" y="447.7" text-anchor="middle" class="t">Ca</text>
<rect x="495.28" y="516.73" width="11.45" height="29.63" fill="#FDC04F" stroke="#F7961C" stroke-width="1.45"/>
<path d="M501 505.5V526.9M498.8 505.5H503.2M498.8 526.9H503.2" stroke="#F7961C" stroke-width="1.15" fill="none"/>
<rect x="496.81" y="498.8" width="8.38" height="6.6" fill="#fff"/>
<text x="501" y="504.6" text-anchor="middle" class="t">Ba</text>
<rect x="509.68" y="517.62" width="11.45" height="28.73" fill="#F36E6B" stroke="#E53C35" stroke-width="1.45"/>
<path d="M515.4 511.5V522.7M513.2 511.5H517.6M513.2 522.7H517.6" stroke="#E53C35" stroke-width="1.15" fill="none"/>
<rect x="511.02" y="504.6" width="8.76" height="6.6" fill="#fff"/>
<text x="515.4" y="510.4" text-anchor="middle" class="t">Aa</text>
<rect x="524.08" y="524.73" width="11.45" height="21.63" fill="#17909D" stroke="#0E5C66" stroke-width="1.45"/>
<path d="M529.8 522.4V525.5M527.6 522.4H532M527.6 525.5H532" stroke="#0E5C66" stroke-width="1.15" fill="none"/>
<rect x="525.61" y="515.5" width="8.38" height="6.6" fill="#fff"/>
<text x="529.8" y="521.3" text-anchor="middle" class="t">Ba</text>
<path d="M299.45 381.4V546.35H546" stroke="#262626" stroke-width="1.3" fill="none"/>
<path d="M299.45 381.4h3M299.45 422.64h3M299.45 463.88h3M299.45 505.11h3" stroke="#262626" stroke-width="1" fill="none"/>
<text x="295.85" y="404.22" text-anchor="end" class="t tk">0.3</text>
<text x="295.85" y="445.46" text-anchor="end" class="t tk">0.2</text>
<text x="295.85" y="486.69" text-anchor="end" class="t tk">0.1</text>
<text x="295.85" y="527.93" text-anchor="end" class="t tk">0.0</text>
<text x="315.75" y="554.55" text-anchor="middle" class="t">US</text>
<text x="330.15" y="554.55" text-anchor="middle" class="t">MS</text>
<text x="344.55" y="554.55" text-anchor="middle" class="t">LS</text>
<path d="M309.1 558.6H351.8" stroke="#262626" stroke-width="1.3"/>
<text x="330.15" y="565.45" text-anchor="middle" class="t">SF</text>
<text x="377.5" y="554.55" text-anchor="middle" class="t">US</text>
<text x="391.9" y="554.55" text-anchor="middle" class="t">MS</text>
<text x="406.3" y="554.55" text-anchor="middle" class="t">LS</text>
<path d="M370.85 558.6H413.55" stroke="#262626" stroke-width="1.3"/>
<text x="391.9" y="565.45" text-anchor="middle" class="t">GL</text>
<text x="439.25" y="554.55" text-anchor="middle" class="t">US</text>
<text x="453.65" y="554.55" text-anchor="middle" class="t">MS</text>
<text x="468.05" y="554.55" text-anchor="middle" class="t">LS</text>
<path d="M432.6 558.6H475.3" stroke="#262626" stroke-width="1.3"/>
<text x="453.65" y="565.45" text-anchor="middle" class="t">AFL</text>
<text x="501" y="554.55" text-anchor="middle" class="t">US</text>
<text x="515.4" y="554.55" text-anchor="middle" class="t">MS</text>
<text x="529.8" y="554.55" text-anchor="middle" class="t">LS</text>
<path d="M494.35 558.6H537.05" stroke="#262626" stroke-width="1.3"/>
<text x="515.4" y="565.45" text-anchor="middle" class="t">SL</text>
<rect x="307.75" y="381.95" width="14.7" height="6.6" fill="#FDC04F" stroke="#F7961C" stroke-width="1.4"/>
<text x="324.05" y="387.45" class="t">US</text>
<rect x="333.1" y="381.95" width="14.7" height="6.6" fill="#F36E6B" stroke="#E53C35" stroke-width="1.4"/>
<text x="349.4" y="387.45" class="t">MS</text>
<rect x="358.45" y="381.95" width="14.7" height="6.6" fill="#17909D" stroke="#0E5C66" stroke-width="1.4"/>
<text x="374.75" y="387.45" class="t">LS</text>
<text x="530" y="389.2" text-anchor="middle" class="tag">(f)</text>
<text transform="translate(285 464) rotate(-90)" text-anchor="middle" class="t yl">SCAI</text>
</g>
</svg>
</body></html>
